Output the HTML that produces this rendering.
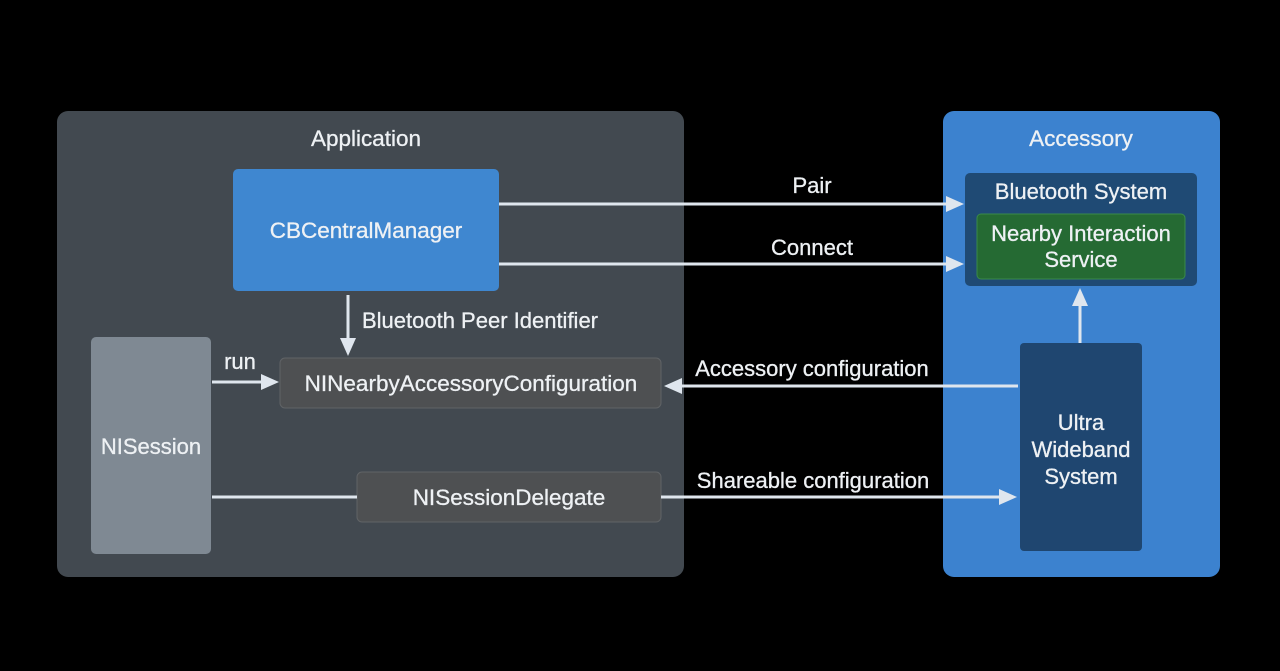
<!DOCTYPE html>
<html><head><meta charset="utf-8"><style>
html,body{margin:0;padding:0;background:#000;width:1280px;height:671px;overflow:hidden}
svg{display:block}
text{font-family:"Liberation Sans",sans-serif;fill:#eef1f4;text-anchor:middle;stroke:#eef1f4;stroke-width:0.3}
</style></head><body>
<svg width="1280" height="671" viewBox="0 0 1280 671" xmlns="http://www.w3.org/2000/svg">
<rect x="57" y="111" width="627" height="466" rx="11" fill="#424950"/>
<rect x="943" y="111" width="277" height="466" rx="11" fill="#3c82cf"/>
<text x="366" y="146" font-size="22.5">Application</text>
<text x="1081" y="146" font-size="22.5">Accessory</text>

<rect x="233" y="169" width="266" height="122" rx="5" fill="#3f87d0"/>
<text x="366" y="238" font-size="22.5">CBCentralManager</text>

<rect x="965" y="173" width="232" height="113" rx="5" fill="#1f4a74"/>
<text x="1081" y="199" font-size="22">Bluetooth System</text>
<rect x="977" y="214" width="208" height="65" rx="4" fill="#256a33" stroke="#3a8a4a" stroke-width="1"/>
<text x="1081" y="241" font-size="22">Nearby Interaction</text>
<text x="1081" y="267" font-size="22">Service</text>

<rect x="1020" y="343" width="122" height="208" rx="4" fill="#1f4670"/>
<text x="1081" y="430" font-size="22">Ultra</text>
<text x="1081" y="457" font-size="22">Wideband</text>
<text x="1081" y="484" font-size="22">System</text>

<rect x="91" y="337" width="120" height="217" rx="5" fill="#7f8993"/>
<text x="151" y="454" font-size="22">NISession</text>

<rect x="280" y="358" width="381" height="50" rx="5" fill="#4e5052" stroke="#606366"/>
<text x="471" y="391" font-size="22.5">NINearbyAccessoryConfiguration</text>
<rect x="357" y="472" width="304" height="50" rx="5" fill="#4e5052" stroke="#606366"/>
<text x="509" y="505" font-size="22.5">NISessionDelegate</text>

<g stroke="#dfe6ee" stroke-width="3" fill="none">
<line x1="499" y1="204" x2="950" y2="204"/>
<line x1="499" y1="264" x2="950" y2="264"/>
<line x1="348" y1="295" x2="348" y2="342"/>
<line x1="212" y1="382" x2="264" y2="382"/>
<line x1="1018" y1="386" x2="678" y2="386"/>
<line x1="212" y1="497" x2="357" y2="497"/>
<line x1="661" y1="497" x2="1003" y2="497"/>
<line x1="1080" y1="343" x2="1080" y2="302"/>
</g>
<g fill="#dfe6ee">
<polygon points="964,204 946,196 946,212"/>
<polygon points="964,264 946,256 946,272"/>
<polygon points="348,356 340,338 356,338"/>
<polygon points="279,382 261,374 261,390"/>
<polygon points="664,386 682,378 682,394"/>
<polygon points="1017,497 999,489 999,505"/>
<polygon points="1080,288 1072,306 1088,306"/>
</g>

<text x="812" y="193" font-size="22">Pair</text>
<text x="812" y="255" font-size="22">Connect</text>
<text x="480" y="328" font-size="22">Bluetooth Peer Identifier</text>
<text x="240" y="369" font-size="22">run</text>
<text x="812" y="376" font-size="22">Accessory configuration</text>
<text x="813" y="488" font-size="22">Shareable configuration</text>
</svg>
</body></html>
